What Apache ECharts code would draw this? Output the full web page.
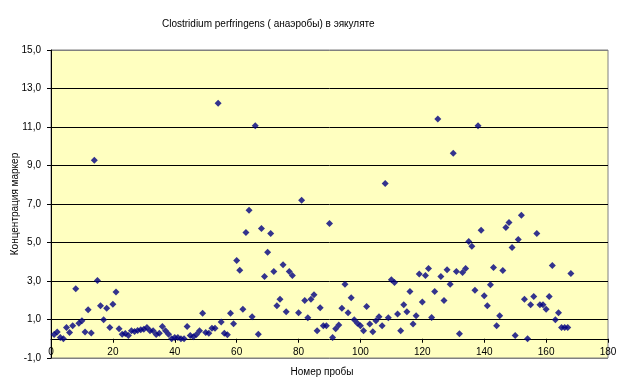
<!DOCTYPE html>
<html>
<head>
<meta charset="utf-8">
<script src="https://cdn.jsdelivr.net/npm/echarts@6/dist/echarts.min.js"></script>
<style>
html,body{margin:0;padding:0;background:#fff;}
#c{width:627px;height:390px;}
</style>
</head>
<body>
<div id="c"></div>
<script>
var titleText = 'Clostridium perfringens ( анаэробы) в эякуляте';
var xName = 'Номер пробы';
var yName = 'Концентрация маркер';

var sampleNo = [1,2,3,4,5,6,7,8,9,10,11,12,13,14,15,16,17,18,19,20,
21,22,23,24,25,26,27,28,29,30,31,32,33,34,35,36,37,38,39,40,
41,42,43,44,45,46,47,48,49,50,51,52,53,54,55,56,57,58,59,60,
61,62,63,64,65,66,67,68,69,70,71,72,73,74,75,76,77,78,80,
81,82,83,84,85,86,87,88,89,90,91,92,93,94,95,96,97,98,99,100,
101,102,103,104,105,106,107,108,109,110,111,112,113,114,115,116,117,118,119,120,
121,122,123,124,125,126,127,128,129,130,131,132,133,134,135,136,137,138,139,140,
141,142,143,144,145,146,147,148,149,150,151,152,153,154,155,156,157,158,159,160,
161,162,163,164,165,166,167,168];

var concentration = [0.22,0.35,0.07,0.0,0.59,0.33,0.68,2.6,0.81,0.94,0.35,1.51,0.3,9.27,3.02,1.72,0.99,1.58,0.59,1.79,
2.43,0.52,0.24,0.27,0.17,0.42,0.38,0.43,0.47,0.5,0.59,0.42,0.42,0.22,0.29,0.64,0.42,0.24,0.0,0.07,
0.07,0.0,0.0,0.64,0.17,0.1,0.22,0.42,1.33,0.33,0.28,0.54,0.54,12.24,0.87,0.29,0.21,1.33,0.78,4.06,
3.56,1.53,5.52,6.67,1.14,11.07,0.24,5.73,3.23,4.5,5.47,3.5,1.72,2.05,3.85,1.4,3.5,3.28,1.35,
7.19,1.99,1.09,2.05,2.29,0.42,1.61,0.68,0.68,5.99,0.07,0.52,0.71,1.58,2.83,1.35,2.13,0.99,0.81,0.68,
0.42,1.67,0.76,0.36,0.94,1.14,0.68,8.07,1.09,3.07,2.92,1.28,0.42,1.77,1.4,2.45,0.76,1.2,3.37,1.91,
3.28,3.65,1.11,2.45,11.41,3.24,1.99,3.59,2.83,9.64,3.5,0.26,3.44,3.65,5.05,4.81,2.52,11.07,5.63,2.24,
1.72,2.81,3.7,0.68,1.2,3.54,5.78,6.04,4.74,0.17,5.16,6.42,2.05,0.0,1.77,2.19,5.47,1.77,1.77,1.53,
2.19,3.8,0.99,1.35,0.59,0.59,0.59,3.39];

var yTicks = [-1,1,3,5,7,9,11,13,15];
var xTicks = [0,20,40,60,80,100,120,140,160,180];

var points = sampleNo.map(function(x, i){ return [x, concentration[i]]; });

var GRID_TOP = 50, GRID_BOTTOM = 32, H = 390;
var yMin = yTicks[0], yMax = yTicks[yTicks.length-1];
// place the x axis at y = 0 (as in the original)
var zeroOffset = -((H - GRID_TOP - GRID_BOTTOM) / (yMax - yMin)) * (0 - yMin);

var FONT = 'Liberation Sans, Arial, sans-serif';
var chart = echarts.init(document.getElementById('c'), null, {renderer:'canvas'});
chart.setOption({
  backgroundColor: '#ffffff',
  animation: false,
  textStyle: {fontFamily: FONT},
  title: {
    text: titleText,
    left: 157, top: 14,
    textStyle: {fontSize: 10, fontWeight: 'normal', color: '#000', fontFamily: FONT}
  },
  graphic: [
    {type: 'text', x: 15, y: 204, rotation: Math.PI / 2,
      style: {text: yName, fontSize: 10, fontFamily: FONT, fill: '#000', align: 'center', verticalAlign: 'middle'}},
    {type: 'text', x: 322, y: 372,
      style: {text: xName, fontSize: 10, fontFamily: FONT, fill: '#000', align: 'center', verticalAlign: 'middle'}}
  ],
  grid: {
    left: 51, right: 19, top: GRID_TOP, bottom: GRID_BOTTOM,
    outerBoundsMode: 'none',
    containLabel: false,
    show: true, backgroundColor: '#FFFFC0', borderColor: '#808080', borderWidth: 1
  },
  xAxis: {
    type: 'value',
    min: xTicks[0], max: xTicks[xTicks.length-1], interval: 20,
    offset: zeroOffset,
    axisLine: {show: true, onZero: false, lineStyle: {color: '#000', width: 1}},
    axisTick: {show: true, length: 4, lineStyle: {color: '#000'}},
    axisLabel: {fontSize: 10, color: '#000', margin: 8, fontFamily: FONT},
    splitLine: {show: false}
  },
  yAxis: {
    type: 'value',
    min: yMin, max: yMax, interval: 2,
    axisLine: {show: true, onZero: false, lineStyle: {color: '#000', width: 1}},
    axisTick: {show: true, length: 4, lineStyle: {color: '#000'}},
    axisLabel: {fontSize: 10, color: '#000', margin: 10, fontFamily: FONT,
      formatter: function(v){ return v.toFixed(1).replace('.', ','); }},
    splitLine: {show: true, lineStyle: {color: ['#808080','#000','#000','#000','#000','#000','#000','#000','#808080'], width: 1}}
  },
  series: [{
    type: 'scatter',
    data: points,
    symbol: 'diamond',
    symbolSize: 7,
    itemStyle: {color: '#000080'}
  }]
});
</script>
</body>
</html>
